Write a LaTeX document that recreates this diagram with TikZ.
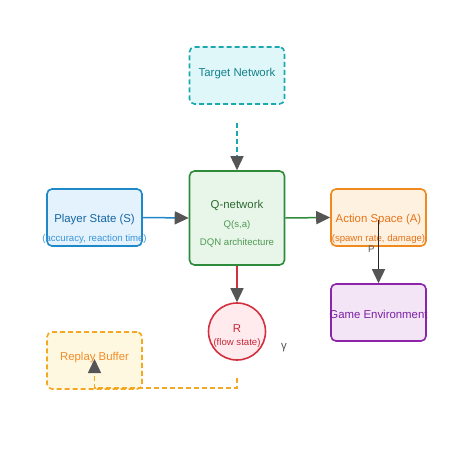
\documentclass[tikz,border=0pt]{standalone}
\usepackage{fontspec}
\setmainfont{Liberation Sans}
\usetikzlibrary{arrows.meta,positioning}
\definecolor{tealB}{HTML}{17A8B0}
\definecolor{tealF}{HTML}{E0F7FA}
\definecolor{tealT}{HTML}{13808A}
\definecolor{blueB}{HTML}{1E88C8}
\definecolor{blueF}{HTML}{E3F2FD}
\definecolor{blueT}{HTML}{1565A0}
\definecolor{blueS}{HTML}{3A95D8}
\definecolor{greenB}{HTML}{2E8B3C}
\definecolor{greenF}{HTML}{E8F5E9}
\definecolor{greenT}{HTML}{2E6B32}
\definecolor{greenS}{HTML}{4E9A52}
\definecolor{orangeB}{HTML}{F0891E}
\definecolor{orangeF}{HTML}{FFF1E0}
\definecolor{orangeT}{HTML}{E6731A}
\definecolor{purpleB}{HTML}{8E24AA}
\definecolor{purpleF}{HTML}{F3E5F5}
\definecolor{purpleT}{HTML}{7B1FA2}
\definecolor{redB}{HTML}{D32F3F}
\definecolor{redF}{HTML}{FFEBEE}
\definecolor{redT}{HTML}{C62838}
\definecolor{yellowB}{HTML}{F5A623}
\definecolor{yellowF}{HTML}{FFF8E1}
\definecolor{yellowT}{HTML}{F08C28}
\definecolor{headC}{HTML}{555555}
\tikzset{
  box/.style={draw, line width=1.6pt, rounded corners=5pt, minimum width=95pt, minimum height=57pt, inner sep=0pt},
  dsh/.style={dash pattern=on 5pt off 3pt},
  conn/.style={line width=1.5pt, -{Triangle[length=14pt,width=13pt,color=headC]}},
  main/.style={font=\fontsize{11.4}{13}\selectfont},
  sub/.style={font=\fontsize{9.6}{11}\selectfont},
}
\begin{document}
\begin{tikzpicture}[x=1pt,y=-1pt]
\useasboundingbox (0,0) rectangle (474,474);
% nodes
\node[box, dsh, draw=tealB, fill=tealF] (tgt) at (237,75.5) {};
\node[main, text=tealT] (tgtT) at (237,73.5) {Target Network};
\node[box, draw=blueB, fill=blueF] (ps) at (94.5,217.5) {};
\node[main, text=blueT] (psT) at (94.5,219.5) {Player State (S)};
\node[sub, text=blueS] (psS) at (94.5,239) {(accuracy, reaction time)};
\node[box, draw=greenB, fill=greenF, minimum height=94pt] (q) at (237,218) {};
\node[main, text=greenT] (qT) at (237,205.5) {Q-network};
\node[sub, text=greenS] (qS) at (237,225) {Q(s,a)};
\node[sub, text=greenS] (qD) at (237,243) {DQN architecture};
\node[box, draw=orangeB, fill=orangeF] (as) at (378.5,217.5) {};
\node[main, text=orangeT] (asT) at (378.5,219.5) {Action Space (A)};
\node[sub, text=orangeT] (asS) at (378.5,239) {(spawn rate, damage)};
\node[box, draw=purpleB, fill=purpleF] (ge) at (378.5,312.5) {};
\node[main, text=purpleT] (geT) at (378.5,314.5) {Game Environment};
\node[circle, draw=redB, fill=redF, line width=1.6pt, minimum size=57pt, inner sep=0pt] (r) at (237,331.5) {};
\node[main, text=redT] (rT) at (237,328.5) {R};
\node[sub, text=redT] (rS) at (237,343) {(flow state)};
\node[main, text=headC] (gam) at (284,347.5) {γ};
\node[box, dsh, draw=yellowB, fill=yellowF] (rb) at (94.5,360.5) {};
\node[main, text=yellowT] (rbT) at (94.5,357.5) {Replay Buffer};
% connectors
\coordinate (tgtS) at (237,123);
\draw[conn, dsh, tealB] (tgtS) -- (q.north);
\draw[conn, blueB] (ps.east) -- (q.west);
\draw[conn, greenB] (q.east) -- (as.west);
\coordinate (asC) at (378.5,220);
\draw[conn, black!85] (asC) -- node[pos=0.46, left=0pt, sub, text=headC]{P} (ge.north);
\draw[conn, redB] (q.south) -- (r.north);
\coordinate (rbS) at (237,378);
\coordinate (rbE) at (94.5,359);
\draw[conn, dsh, yellowB] (rbS) -- (237,388) -- (94.5,388) -- (rbE);
\end{tikzpicture}
\end{document}
